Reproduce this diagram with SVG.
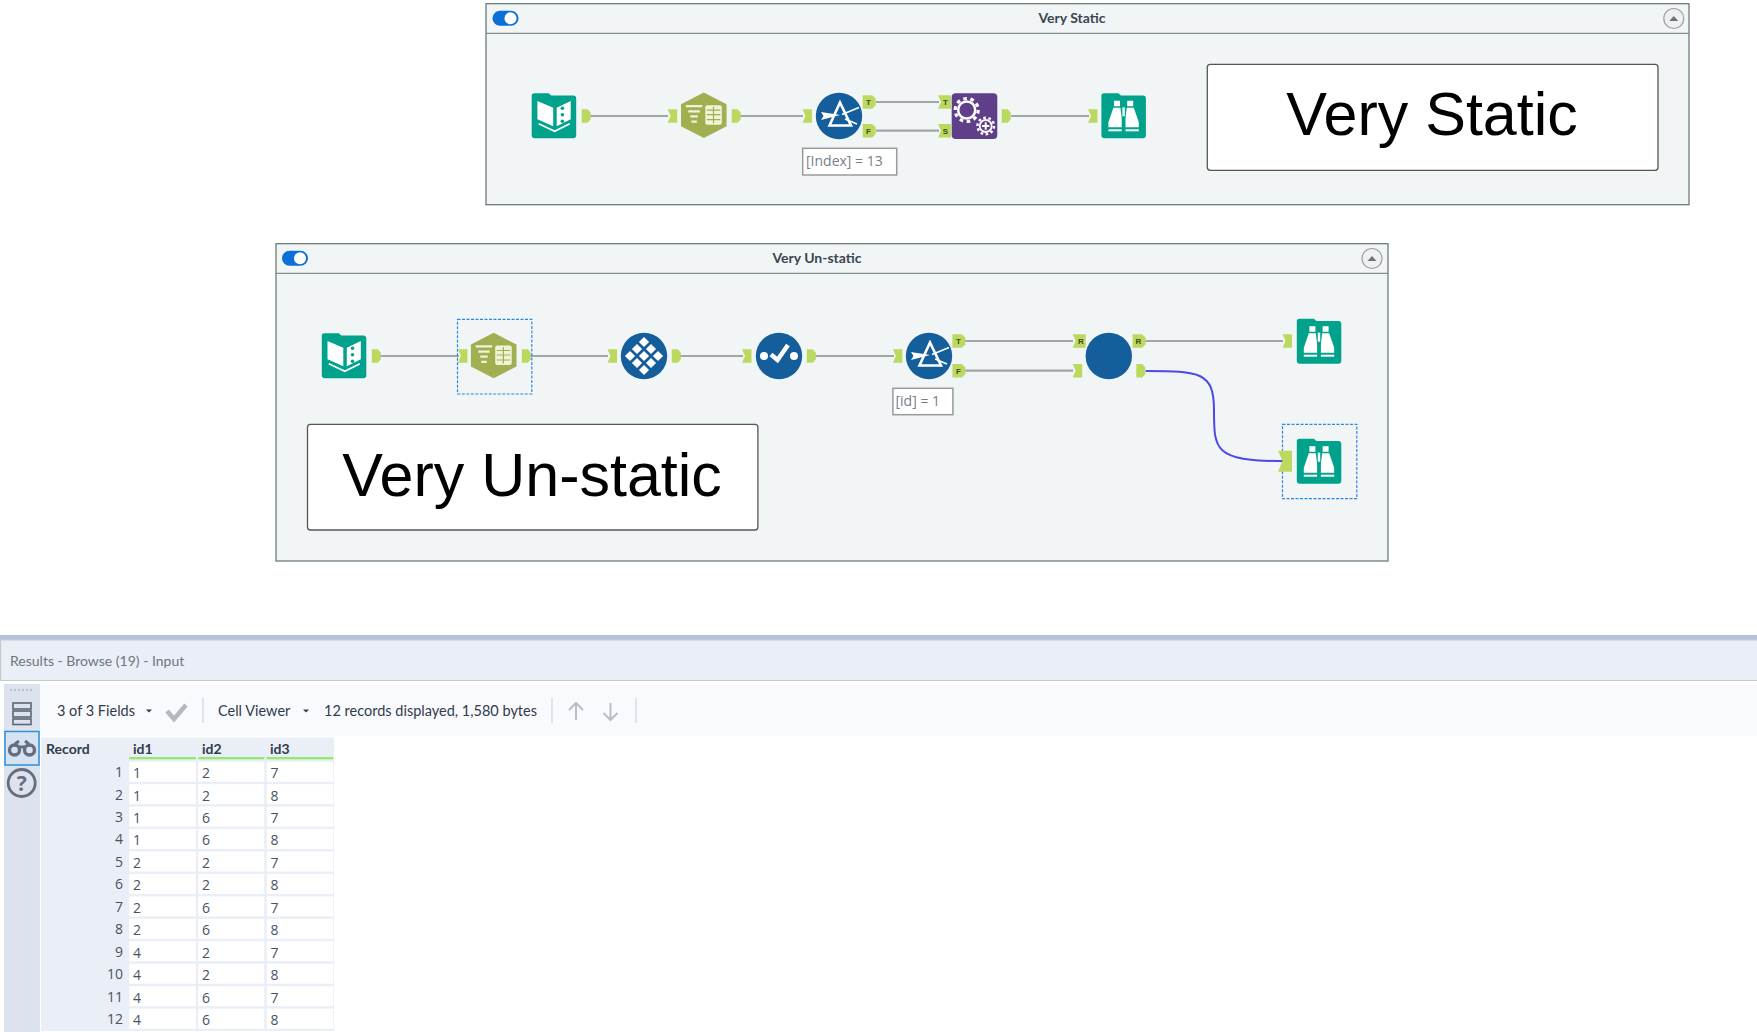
<svg xmlns="http://www.w3.org/2000/svg" width="1757" height="1032" viewBox="0 0 1757 1032">
<style>
.panel{fill:#f1f5f6;stroke:#5f7270;stroke-width:1.2}
.hdr{stroke:#7f908e;stroke-width:1.2}
.title{font:700 14px Lato,"Liberation Sans",sans-serif;fill:#3a4650;text-anchor:middle}
.big{font:61px "Liberation Sans",Arial,sans-serif;fill:#000;text-anchor:middle}
.cmt{fill:#fff;stroke:#555;stroke-width:1.3}
.lbl{fill:#fff;stroke:#9a9a9a;stroke-width:1.5}
.lbt{font:14px "Open Sans",sans-serif;fill:#77808a}
.conn{fill:none;stroke:#a3a6a6;stroke-width:2.2}
.sel{fill:none;stroke:#2b8ae0;stroke-width:1.2;stroke-dasharray:3 1.5}
.port{font:bold 8px "Liberation Sans",sans-serif;fill:#3f4a20;text-anchor:middle}
.ui{font:14.5px Lato,"Open Sans",sans-serif;fill:#333b4a}
.uib{font:bold 14px Lato,"Open Sans",sans-serif;fill:#333b4a}
.num{font:14px "Open Sans",sans-serif;fill:#4a5262}
.end{text-anchor:end}
.head{fill:#e9eef7}
.rowh{fill:#e9eef7}
.cell{fill:#fff}
.grn{fill:#93ea6c}
.sep{stroke:#c9ced6;stroke-width:1}
.side{fill:none;stroke:#5d6679}
</style>
<defs>
<polygon id="pout" points="0,0 6,0 9,3.5 9,10 6,13.4 0,13.4" fill="#bcd95f"/>
<polygon id="pin" points="0,0 9.5,0 9.5,13.4 0,13.4 3,6.7" fill="#bcd95f"/>
<polygon id="poutw" points="0,0 9.5,0 13,3.5 13,10 9.5,13.4 0,13.4" fill="#bcd95f"/>
<polygon id="pinw" points="0,0 13,0 13,13.4 0,13.4 3,6.7" fill="#bcd95f"/>
<path id="folder" d="M2.5,0H17L19.5,2.3H41.5A3,3 0 0 1 44.5,5.3V42A3,3 0 0 1 41.5,45H3A3,3 0 0 1 0,42V2.5A2.5,2.5 0 0 1 2.5,0Z" fill="#00a28c"/>
<g id="book">
<use href="#folder"/>
<path d="M5.7,7.7L21.5,14.5V33L5.7,26Z M25,14.5L39,7.7V26L25,33Z" fill="#fff"/>
<circle cx="30.7" cy="15" r="1.8" fill="#00a28c"/><circle cx="30.7" cy="21.5" r="1.8" fill="#00a28c"/><circle cx="30.7" cy="28" r="1.8" fill="#00a28c"/>
<path d="M7,30.5L23,38L38,30.5" fill="none" stroke="#fff" stroke-width="1.8"/>
</g>
<g id="browse">
<use href="#folder"/>
<path d="M12.6,7.5H18.6V13H12.6Z M25.8,7.5H31.8V13H25.8Z M12,14.5H19L20.3,25V34H7V29Z M32.4,14.5H25.4L24.1,25V34H37.4V29Z" fill="#fff"/>
<rect x="21" y="14" width="2.4" height="9" fill="#fff"/>
<rect x="7" y="36" width="13.3" height="2" fill="#fff"/><rect x="24.1" y="36" width="13.3" height="2" fill="#fff"/>
</g>
<g id="hex">
<polygon points="0,-22.7 22.8,-11 22.8,11 0,22.7 -22.8,11 -22.8,-11" fill="#a2af51"/>
<path d="M-18,-10.3H-1.5V-8H-18Z M-15.5,-5H-4V-2.7H-15.5Z M-13.5,0H-6V2.3H-13.5Z M-12.5,5.2H-7V7.5H-12.5Z" fill="#f0f3d8"/>
<rect x="1.5" y="-10" width="16.5" height="19.5" rx="2" fill="#f0f3d8"/>
<path d="M3,-5H16.5M3,-0.5H16.5M3,4.5H16.5M9.7,-8.5V8" stroke="#a2af51" stroke-width="1.2" fill="none"/>
</g>
<g id="filter">
<ellipse cx="0" cy="0" rx="23.2" ry="23.3" fill="#155e9c"/>
<polygon points="1,-13.5 -9.5,9.5 12,9.5" fill="none" stroke="#fff" stroke-width="2.6"/>
<polygon points="-18,-4 1,-1 -18,4 -15.5,0" fill="#fff"/>
<path d="M3,-1.5L20,-8.5M6,3L18,8" stroke="#fff" stroke-width="1.6" fill="none"/>
</g>
<g id="joinc">
<circle r="23.2" fill="#155e9c"/>
<g fill="#fff">
<rect x="-3.6" y="-3.6" width="7.2" height="7.2" transform="rotate(45)"/>
<rect x="-3.6" y="-3.6" width="7.2" height="7.2" transform="translate(-7,-7) rotate(45)"/>
<rect x="-3.6" y="-3.6" width="7.2" height="7.2" transform="translate(7,-7) rotate(45)"/>
<rect x="-3.6" y="-3.6" width="7.2" height="7.2" transform="translate(-7,7) rotate(45)"/>
<rect x="-3.6" y="-3.6" width="7.2" height="7.2" transform="translate(7,7) rotate(45)"/>
<rect x="-3.6" y="-3.6" width="7.2" height="7.2" transform="translate(0,-14) rotate(45)"/>
<rect x="-3.6" y="-3.6" width="7.2" height="7.2" transform="translate(0,14) rotate(45)"/>
<rect x="-3.6" y="-3.6" width="7.2" height="7.2" transform="translate(-14,0) rotate(45)"/>
<rect x="-3.6" y="-3.6" width="7.2" height="7.2" transform="translate(14,0) rotate(45)"/>
</g>
</g>
<g id="collapse">
<circle r="10" fill="#eef0f1" stroke="#9aa0a2" stroke-width="1.2"/>
<path d="M-4.5,2.5L0,-2.5L4.5,2.5Z" fill="#6a747e"/>
</g>
<g id="toggle">
<rect width="26" height="15" rx="7.5" fill="#0b6fd8"/>
<circle cx="18" cy="7.5" r="6" fill="#fff"/>
</g>
</defs>

<g id="panel-very-static">
<rect class="panel" x="486" y="3.7" width="1203" height="201"/>
<line class="hdr" x1="486" y1="33.3" x2="1689" y2="33.3"/>
<use href="#toggle" x="492.5" y="10.7"/>
<text class="title" x="1072" y="22.5">Very Static</text>
<use href="#collapse" x="1673.8" y="18.5"/>
</g>
<g id="panel-very-unstatic">
<rect class="panel" x="276" y="243.7" width="1112" height="317.3"/>
<line class="hdr" x1="276" y1="273.3" x2="1388" y2="273.3"/>
<use href="#toggle" x="282" y="250.7"/>
<text class="title" x="817" y="262.5">Very Un-static</text>
<use href="#collapse" x="1372" y="258.5"/>
</g>

<g id="connectors">
<path class="conn" d="M590,116H668"/>
<path class="conn" d="M740,116H803"/>
<path class="conn" d="M876,102H939"/>
<path class="conn" d="M876,130.7H939"/>
<path class="conn" d="M1011,116H1089"/>
<path class="conn" d="M380,356H459"/>
<path class="conn" d="M530,356H608"/>
<path class="conn" d="M680,356H743"/>
<path class="conn" d="M815,356H894"/>
<path class="conn" d="M965,341H1073"/>
<path class="conn" d="M965,370.7H1073"/>
<path class="conn" d="M1145,341H1283"/>
<path d="M1145.6,371C1200,371 1214,372 1214,410C1214,450 1214,461 1283,461" fill="none" stroke="#4a4ae6" stroke-width="2"/>
</g>

<g id="node-input-1">
<use href="#book" x="531.7" y="93.3"/>
<use href="#pout" x="581.7" y="109.3"/>
</g>
<g id="node-select-1">
<use href="#pin" x="667.7" y="109.3"/>
<use href="#hex" x="703.8" y="115.2"/>
<use href="#pout" x="731.7" y="109.3"/>
</g>
<g id="node-filter-1">
<use href="#pin" x="802.5" y="109.3"/>
<use href="#filter" x="839" y="116"/>
<use href="#poutw" x="862.7" y="95.3"/><text class="port" x="868.5" y="105">T</text>
<use href="#poutw" x="862.7" y="124"/><text class="port" x="868.5" y="133.7">F</text>
<rect class="lbl" x="802.7" y="148.3" width="94" height="26.7"/>
<text class="lbt" x="806" y="166">[Index] = 13</text>
</g>
<g id="node-macro">
<use href="#pinw" x="938" y="95.3"/><text class="port" x="945.5" y="105">T</text>
<use href="#pinw" x="938" y="124"/><text class="port" x="945.5" y="133.7">S</text>
<rect x="951.7" y="93.3" width="45.6" height="45.7" rx="4" fill="#5f3f8a"/>
<g fill="none" stroke="#fff">
<circle cx="966.7" cy="110" r="8.5" stroke-width="2.5"/>
<circle cx="966.7" cy="110" r="11.5" stroke-width="3.2" stroke-dasharray="3.6 3.6"/>
<circle cx="985.7" cy="126" r="6" stroke-width="1.8"/>
<circle cx="985.7" cy="126" r="8.3" stroke-width="2.4" stroke-dasharray="2.6 2.6"/>
<path d="M982,126H989.4M985.7,122.3V129.7" stroke-width="2"/>
</g>
<use href="#pout" x="1001.7" y="109.3"/>
</g>
<g id="node-browse-1">
<use href="#pin" x="1088" y="109.3"/>
<use href="#browse" x="1101.4" y="93.3"/>
</g>
<g id="comment-static">
<rect class="cmt" x="1207.3" y="64.3" width="450.7" height="106" rx="3"/>
<text class="big" x="1432" y="134.5">Very Static</text>
</g>

<g id="node-input-2">
<use href="#book" x="321.8" y="333.3"/>
<use href="#pout" x="371.8" y="349.3"/>
</g>
<g id="node-select-2">
<rect class="sel" x="457.5" y="319.3" width="74.3" height="74.7"/>
<use href="#pin" x="458" y="349.3"/>
<use href="#hex" x="493.7" y="355.5"/>
<use href="#pout" x="521.8" y="349.3"/>
</g>
<g id="node-join">
<use href="#pin" x="607.5" y="349.3"/>
<use href="#joinc" x="644" y="356"/>
<use href="#pout" x="671.8" y="349.3"/>
</g>
<g id="node-check">
<use href="#pin" x="742" y="349.3"/>
<circle cx="779" cy="356" r="23.2" fill="#155e9c"/>
<circle cx="764" cy="356" r="4" fill="#fff"/><circle cx="794" cy="356" r="4" fill="#fff"/>
<path d="M771,354.5L777.5,360L788,345" fill="none" stroke="#fff" stroke-width="4.5"/>
<use href="#pout" x="806.8" y="349.3"/>
</g>
<g id="node-filter-2">
<use href="#pin" x="892.9" y="349.3"/>
<use href="#filter" x="929" y="356"/>
<use href="#poutw" x="952.4" y="334.3"/><text class="port" x="958.5" y="344">T</text>
<use href="#poutw" x="952.4" y="364"/><text class="port" x="958.5" y="373.7">F</text>
<rect class="lbl" x="892.9" y="388.3" width="60" height="26.4"/>
<text class="lbt" x="895.5" y="406">[id] = 1</text>
</g>
<g id="node-union">
<use href="#pinw" x="1072.7" y="334.3"/><text class="port" x="1081" y="344">R</text>
<use href="#pin" x="1072.7" y="364"/>
<ellipse cx="1108.8" cy="356" rx="23.2" ry="23.3" fill="#155e9c"/>
<use href="#poutw" x="1132.6" y="334.3"/><text class="port" x="1138.5" y="344">R</text>
<use href="#pout" x="1136.3" y="364"/>
</g>
<g id="node-browse-2">
<use href="#pin" x="1282.5" y="334.3"/>
<use href="#browse" x="1296.8" y="318.7"/>
</g>
<g id="node-browse-3">
<rect class="sel" x="1282.5" y="424.3" width="74.3" height="74.4"/>
<polygon points="1278,450.7 1292,450.7 1292,471.7 1278,471.7 1282.5,461" fill="#bcd95f"/>
<use href="#browse" x="1296.8" y="438.7"/>
</g>
<g id="comment-unstatic">
<rect class="cmt" x="307.5" y="424.3" width="450.4" height="105.7" rx="3"/>
<text class="big" x="532" y="495.5">Very Un-static</text>
</g>

<g id="results">
<rect x="0" y="635" width="1757" height="5" fill="#b3c3de"/>
<rect x="0" y="640" width="1757" height="40" fill="#e9eef7"/>
<line x1="0" y1="680.5" x2="1757" y2="680.5" stroke="#c9c9c9"/>
<line x1="0" y1="640" x2="1757" y2="640" stroke="#c9ccd0"/>
<rect x="0" y="640" width="1.2" height="40" fill="#c9c9c9"/>
<rect x="40" y="684" width="1717" height="52" fill="#f8fafd"/>
<rect x="4" y="684" width="36" height="348" fill="#dce3ee"/>
<text x="10" y="665.5" style="font:14px Lato,sans-serif;fill:#6d7682">Results - Browse (19) - Input</text>
<g fill="#8c94a3"><circle cx="11" cy="690" r=".8"/><circle cx="15" cy="690" r=".8"/><circle cx="19" cy="690" r=".8"/><circle cx="23" cy="690" r=".8"/><circle cx="27" cy="690" r=".8"/><circle cx="31" cy="690" r=".8"/></g>
<g class="side" stroke-width="1.6"><rect x="13" y="703" width="18" height="6"/><rect x="13" y="711" width="18" height="6"/><rect x="13" y="719" width="18" height="5.5"/></g>
<rect x="5" y="731.5" width="34" height="33.5" fill="#d5e3f3" stroke="#2f8fd8" stroke-width="1.5"/>
<g fill="none" stroke="#666e7e" stroke-width="3.4"><circle cx="14.5" cy="750" r="5"/><circle cx="29.5" cy="750" r="5"/></g>
<path d="M15,744L19,741M29,744L25,741M18,747H26" stroke="#666e7e" stroke-width="3" fill="none"/>
<circle cx="21.7" cy="783" r="13.5" fill="none" stroke="#666e7e" stroke-width="2.8"/>
<text x="21.7" y="791" style="font:bold 21px 'Open Sans',sans-serif;fill:#666e7e;text-anchor:middle">?</text>

<text class="ui" x="57" y="716">3 of 3 Fields</text>
<path d="M146,709.5h6l-3,3z M303,709.5h6l-3,3z" fill="#333b4a"/>
<path d="M167,711L174,719L186,705" fill="none" stroke="#b4b8bd" stroke-width="4.5"/>
<line class="sep" x1="203" y1="698" x2="203" y2="723"/>
<text class="ui" x="218" y="716">Cell Viewer</text>
<text class="ui" x="324" y="716">12 records displayed, 1,580 bytes</text>
<line class="sep" x1="552" y1="698" x2="552" y2="723"/>
<path d="M576,720V703M569,710L576,703L583,710M610.5,703V720M603.5,713L610.5,720L617.5,713" fill="none" stroke="#b9bec6" stroke-width="2"/>
<line class="sep" x1="636" y1="698" x2="636" y2="723"/>

<rect id="table-bg" x="41" y="737.5" width="293" height="293.5" fill="#e9eef7"/>
<g id="table-head">
<rect class="grn" x="129.3" y="757" width="66.7" height="2.3"/>
<rect class="grn" x="198.3" y="757" width="66" height="2.3"/>
<rect class="grn" x="266.7" y="757" width="66.6" height="2.3"/>
<text class="uib" x="46" y="754">Record</text>
<text class="uib" x="133" y="754">id1</text>
<text class="uib" x="202" y="754">id2</text>
<text class="uib" x="270" y="754">id3</text>
</g>
<g id="table-cells">
<rect class="cell" x="129.3" y="761.7" width="66.7" height="20"/><rect class="cell" x="198.3" y="761.7" width="66" height="20"/><rect class="cell" x="266.7" y="761.7" width="66.6" height="20"/>
<rect class="cell" x="129.3" y="784.15" width="66.7" height="20"/><rect class="cell" x="198.3" y="784.15" width="66" height="20"/><rect class="cell" x="266.7" y="784.15" width="66.6" height="20"/>
<rect class="cell" x="129.3" y="806.6" width="66.7" height="20"/><rect class="cell" x="198.3" y="806.6" width="66" height="20"/><rect class="cell" x="266.7" y="806.6" width="66.6" height="20"/>
<rect class="cell" x="129.3" y="829.05" width="66.7" height="20"/><rect class="cell" x="198.3" y="829.05" width="66" height="20"/><rect class="cell" x="266.7" y="829.05" width="66.6" height="20"/>
<rect class="cell" x="129.3" y="851.5" width="66.7" height="20"/><rect class="cell" x="198.3" y="851.5" width="66" height="20"/><rect class="cell" x="266.7" y="851.5" width="66.6" height="20"/>
<rect class="cell" x="129.3" y="873.95" width="66.7" height="20"/><rect class="cell" x="198.3" y="873.95" width="66" height="20"/><rect class="cell" x="266.7" y="873.95" width="66.6" height="20"/>
<rect class="cell" x="129.3" y="896.4" width="66.7" height="20"/><rect class="cell" x="198.3" y="896.4" width="66" height="20"/><rect class="cell" x="266.7" y="896.4" width="66.6" height="20"/>
<rect class="cell" x="129.3" y="918.85" width="66.7" height="20"/><rect class="cell" x="198.3" y="918.85" width="66" height="20"/><rect class="cell" x="266.7" y="918.85" width="66.6" height="20"/>
<rect class="cell" x="129.3" y="941.3" width="66.7" height="20"/><rect class="cell" x="198.3" y="941.3" width="66" height="20"/><rect class="cell" x="266.7" y="941.3" width="66.6" height="20"/>
<rect class="cell" x="129.3" y="963.75" width="66.7" height="20"/><rect class="cell" x="198.3" y="963.75" width="66" height="20"/><rect class="cell" x="266.7" y="963.75" width="66.6" height="20"/>
<rect class="cell" x="129.3" y="986.2" width="66.7" height="20"/><rect class="cell" x="198.3" y="986.2" width="66" height="20"/><rect class="cell" x="266.7" y="986.2" width="66.6" height="20"/>
<rect class="cell" x="129.3" y="1008.65" width="66.7" height="20"/><rect class="cell" x="198.3" y="1008.65" width="66" height="20"/><rect class="cell" x="266.7" y="1008.65" width="66.6" height="20"/>
</g>
<g id="table-text">
<text class="num end" x="123" y="777">1</text><text class="num" x="133" y="778">1</text><text class="num" x="202" y="778">2</text><text class="num" x="270.5" y="778">7</text>
<text class="num end" x="123" y="799.5">2</text><text class="num" x="133" y="800.5">1</text><text class="num" x="202" y="800.5">2</text><text class="num" x="270.5" y="800.5">8</text>
<text class="num end" x="123" y="822">3</text><text class="num" x="133" y="823">1</text><text class="num" x="202" y="823">6</text><text class="num" x="270.5" y="823">7</text>
<text class="num end" x="123" y="844.4">4</text><text class="num" x="133" y="845.4">1</text><text class="num" x="202" y="845.4">6</text><text class="num" x="270.5" y="845.4">8</text>
<text class="num end" x="123" y="866.8">5</text><text class="num" x="133" y="867.8">2</text><text class="num" x="202" y="867.8">2</text><text class="num" x="270.5" y="867.8">7</text>
<text class="num end" x="123" y="889.3">6</text><text class="num" x="133" y="890.3">2</text><text class="num" x="202" y="890.3">2</text><text class="num" x="270.5" y="890.3">8</text>
<text class="num end" x="123" y="911.7">7</text><text class="num" x="133" y="912.7">2</text><text class="num" x="202" y="912.7">6</text><text class="num" x="270.5" y="912.7">7</text>
<text class="num end" x="123" y="934.2">8</text><text class="num" x="133" y="935.2">2</text><text class="num" x="202" y="935.2">6</text><text class="num" x="270.5" y="935.2">8</text>
<text class="num end" x="123" y="956.6">9</text><text class="num" x="133" y="957.6">4</text><text class="num" x="202" y="957.6">2</text><text class="num" x="270.5" y="957.6">7</text>
<text class="num end" x="123" y="979.1">10</text><text class="num" x="133" y="980.1">4</text><text class="num" x="202" y="980.1">2</text><text class="num" x="270.5" y="980.1">8</text>
<text class="num end" x="123" y="1001.5">11</text><text class="num" x="133" y="1002.5">4</text><text class="num" x="202" y="1002.5">6</text><text class="num" x="270.5" y="1002.5">7</text>
<text class="num end" x="123" y="1024">12</text><text class="num" x="133" y="1025">4</text><text class="num" x="202" y="1025">6</text><text class="num" x="270.5" y="1025">8</text>
</g>
</g>
</svg>
